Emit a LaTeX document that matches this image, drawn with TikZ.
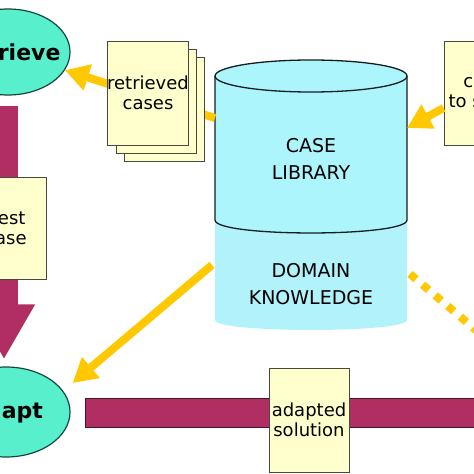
\documentclass[tikz,border=0pt]{standalone}
\usepackage{fontspec}
\setmainfont{DejaVu Sans}
\usetikzlibrary{arrows.meta,calc,shapes.geometric}

\begin{document}
\begin{tikzpicture}[
    x=1pt,
    y=-1pt,
    font=\fontsize{18}{20}\selectfont,
    task/.style={
        ellipse,
        draw=taskline,
        fill=taskfill,
        line width=1.2pt,
        inner sep=0pt,
        font=\fontsize{22}{24}\selectfont\bfseries
    },
    paper/.style={
        draw=paperline,
        fill=paperfill,
        line width=0.9pt,
        minimum width=80pt,
        minimum height=104pt,
        inner sep=0pt,
        align=center
    },
    flow/.style={draw=flowgold, line width=8pt, -{Triangle[length=24pt, width=26pt]}},
    dots/.style={draw=flowgold, line width=8pt, dash pattern=on 8pt off 8.5pt},
    reuse/.style={draw=reusered, line width=28pt, -{Triangle[length=55pt, width=58pt]}},
    bar/.style={draw=reuseline, fill=reusered, line width=1pt},
    store/.style={font=\fontsize{19}{27}\selectfont, align=center}
]

\definecolor{taskfill}{RGB}{88,240,204}
\definecolor{taskline}{RGB}{20,72,62}
\definecolor{paperfill}{RGB}{255,255,206}
\definecolor{paperline}{RGB}{72,72,62}
\definecolor{flowgold}{RGB}{255,200,0}
\definecolor{reusered}{RGB}{176,46,98}
\definecolor{reuseline}{RGB}{70,22,42}
\definecolor{libfill}{RGB}{172,245,252}
\definecolor{domfill}{RGB}{178,242,250}
\definecolor{cylline}{RGB}{20,30,30}

\clip (0,0) rectangle (474,474);

\coordinate (libwest) at (215,118);
\coordinate (libeast) at (407,128);
\coordinate (domwest) at (212,265);
\coordinate (domeast) at (410,274);
\coordinate (dotend) at (490,342);
\coordinate (barend) at (480,427);

% Case library cylinder, domain knowledge band underneath (no outline).
\fill[domfill] (215,220) -- (215,320)
    .. controls (215,333.3) and (407,333.3) .. (407,320)
    -- (407,220) -- cycle;
\fill[libfill] (215,76) -- (215,220)
    .. controls (215,237.3) and (407,237.3) .. (407,220)
    -- (407,76) -- cycle;
\draw[cylline, line width=1.3pt] (215,76) -- (215,220)
    .. controls (215,237.3) and (407,237.3) .. (407,220)
    -- (407,76);
\draw[cylline, fill=libfill, line width=1.3pt] (311,76) ellipse[x radius=96, y radius=16];
\node[store] (library) at (311,159) {CASE\\LIBRARY};
\node[store] (domain) at (311,284) {DOMAIN\\KNOWLEDGE};

% The two tasks.
\node[task, minimum width=124pt, minimum height=86pt] (retrieve) at (8,52)
    {\makebox[0pt]{Retrieve}};
\node[task, minimum width=128pt, minimum height=90pt] (adapt) at (6,412)
    {\makebox[0pt]{Adapt}};

\node[paper] (newcase) at (484,93) {case\\to solve};

% Knowledge flows.
\draw[flow] (libwest) -- (retrieve);
\draw[flow] ($(newcase.west)+(0,15)$) -- (libeast);
\draw[flow] (domwest) -- ($(adapt.east)+(2,-29)$);
\draw[dots] (domeast) -- (dotend);

% Stack of retrieved cases.
\node[paper] (sheetc) at (164,109) {};
\node[paper] (sheetb) at (156,101) {};
\node[paper] (retrieved) at (148,93) {retrieved\\cases};

% Reuse path.
\draw[reuse] ($(retrieve.south)+(-4,10)$) -- ($(adapt.north)+(-2,-7)$);
\node[paper, minimum height=102pt] (best) at (6,228) {best\\case};

\path[bar] ($(adapt.east)+(15,-14)$) rectangle (barend);
\node[paper] (solution) at (309,420) {adapted\\solution};

\end{tikzpicture}
\end{document}
